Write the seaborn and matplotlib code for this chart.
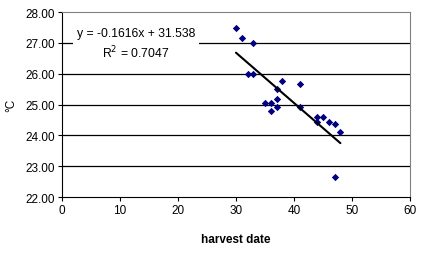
import numpy as np
import pandas as pd
import seaborn as sns
import matplotlib.pyplot as plt

# harvest date vs temperature
harvest = [30, 31, 32, 33, 33, 35, 36, 36, 37, 37, 37, 38, 41, 41, 44, 44, 45, 46, 47, 47, 48]
temp = [27.48, 27.16, 26.00, 27.00, 26.00, 25.06, 25.06, 24.78, 25.50, 25.17, 24.93,
        25.77, 25.68, 24.93, 24.58, 24.44, 24.58, 24.42, 24.36, 22.64, 24.11]
y_ticks = [22, 23, 24, 25, 26, 27, 28]
x_ticks = [0, 10, 20, 30, 40, 50, 60]
equation = "y = -0.1616x + 31.538\nR$^2$ = 0.7047"

df = pd.DataFrame({"harvest": harvest, "temp": temp})

sns.set_style("white")
plt.rcParams['font.family'] = ['Liberation Sans', 'DejaVu Sans']
plt.rcParams['text.color'] = 'black'
plt.rcParams['axes.labelcolor'] = 'black'
plt.rcParams['xtick.color'] = 'black'
plt.rcParams['ytick.color'] = 'black'

fig = plt.figure(figsize=(4.39, 2.55), dpi=100)
ax = fig.add_axes([0.141, 0.2235, 0.793, 0.7255])

# gridlines at every y tick
for yv in y_ticks[1:-1]:
    ax.axhline(yv, color='black', lw=0.9, zorder=1)

sns.scatterplot(data=df, x="harvest", y="temp", marker="D", s=14, color="#000080",
                edgecolor="#000080", linewidth=0, ax=ax, zorder=3)
sns.regplot(data=df, x="harvest", y="temp", scatter=False, ci=None, truncate=True,
            line_kws={"color": "black", "lw": 1.5, "zorder": 4}, ax=ax)

ax.set_xlim(0, 60)
ax.set_ylim(22, 28)
ax.set_xticks(x_ticks)
ax.set_yticks(y_ticks)
ax.set_yticklabels([f"{v:.2f}" for v in y_ticks])
ax.tick_params(axis='both', direction='out', length=3, width=0.8, color='black',
               labelcolor='black', labelsize=8.5, pad=2, left=True, bottom=True)

for side in ['top', 'right']:
    ax.spines[side].set_color('#808080')
    ax.spines[side].set_linewidth(0.8)
for side in ['left', 'bottom']:
    ax.spines[side].set_color('black')
    ax.spines[side].set_linewidth(0.8)

ax.set_xlabel("harvest date", fontsize=8.5, fontweight='bold', labelpad=12, color='black')
ax.set_ylabel("°C", fontsize=8.5, labelpad=6, color='black')

ax.text(0.213, 26.98, equation, transform=ax.get_yaxis_transform(), ha='center', va='center',
        fontsize=8.8, linespacing=1.35, zorder=5, color='black',
        bbox=dict(facecolor='white', edgecolor='none', pad=2.5))

fig.savefig("out.png", dpi=100)
